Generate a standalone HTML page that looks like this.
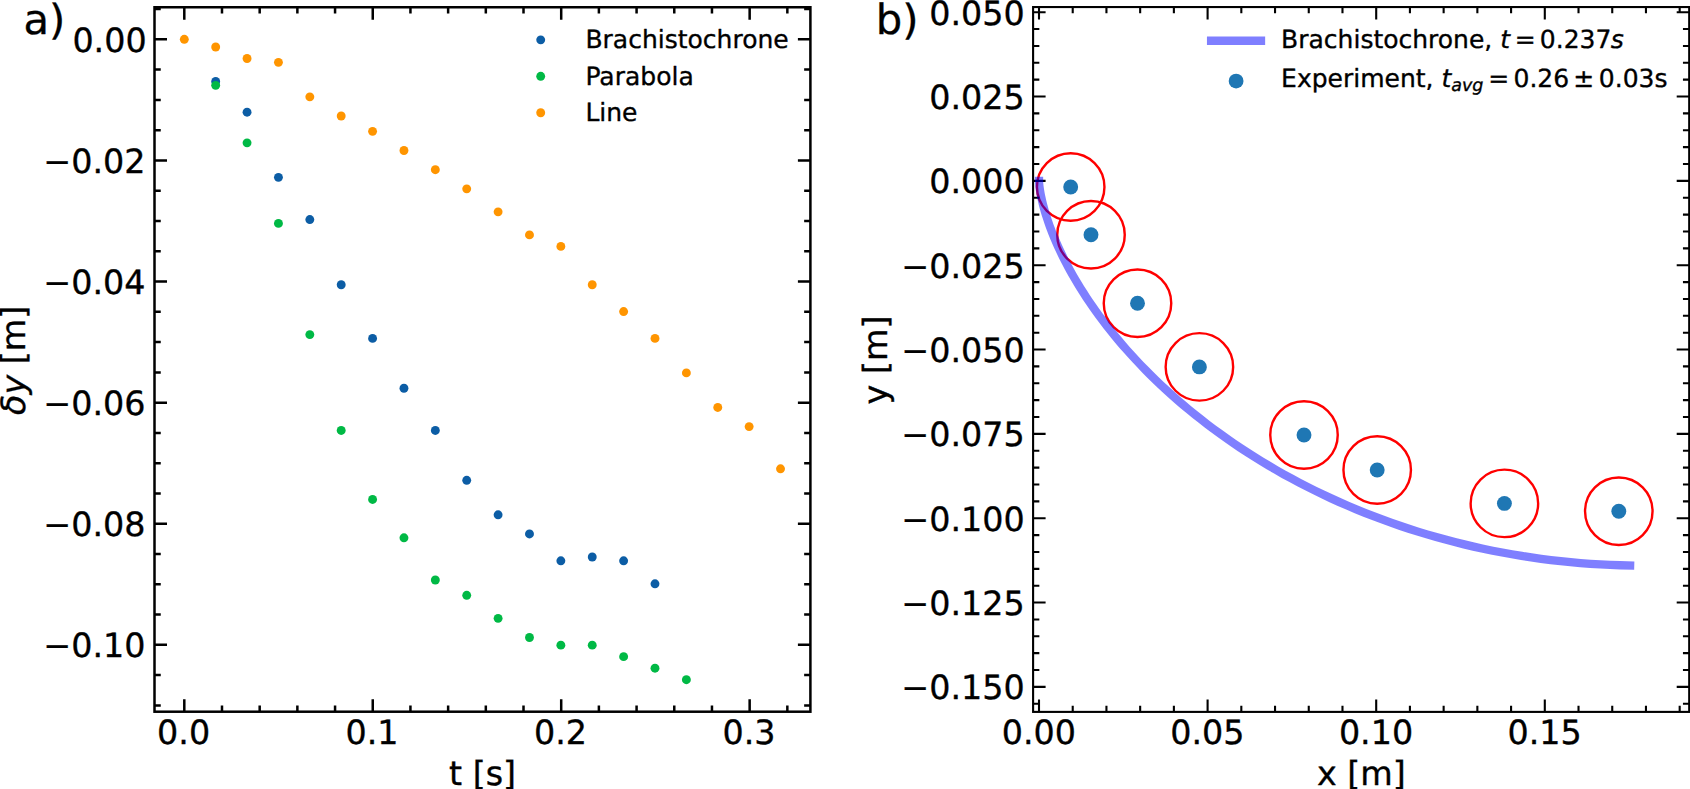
<!DOCTYPE html>
<html lang="en"><head><meta charset="utf-8"><title>Brachistochrone experiment</title>
<style>html,body{margin:0;padding:0;background:#fff}body{width:1690px;height:789px;overflow:hidden}svg{display:block}</style>
</head><body>
<svg width="1690" height="789" viewBox="0 0 1690 789" font-family='"DejaVu Sans", "Liberation Sans", sans-serif' fill="#000">
<style>text{stroke:#000;stroke-width:0.35px;stroke-linejoin:round;text-rendering:geometricPrecision}</style>
<rect width="1690" height="789" fill="#fff"/>
<path d="M184.3 711.7v-12.5M184.3 7.25v12.5M372.75 711.7v-12.5M372.75 7.25v12.5M561.2 711.7v-12.5M561.2 7.25v12.5M749.65 711.7v-12.5M749.65 7.25v12.5M221.99 711.7v-6.25M221.99 7.25v6.25M259.68 711.7v-6.25M259.68 7.25v6.25M297.37 711.7v-6.25M297.37 7.25v6.25M335.06 711.7v-6.25M335.06 7.25v6.25M410.44 711.7v-6.25M410.44 7.25v6.25M448.13 711.7v-6.25M448.13 7.25v6.25M485.82 711.7v-6.25M485.82 7.25v6.25M523.51 711.7v-6.25M523.51 7.25v6.25M598.89 711.7v-6.25M598.89 7.25v6.25M636.58 711.7v-6.25M636.58 7.25v6.25M674.27 711.7v-6.25M674.27 7.25v6.25M711.96 711.7v-6.25M711.96 7.25v6.25M787.34 711.7v-6.25M787.34 7.25v6.25M154.5 39.35h12.5M810.4 39.35h-12.5M154.5 160.45h12.5M810.4 160.45h-12.5M154.5 281.55h12.5M810.4 281.55h-12.5M154.5 402.65h12.5M810.4 402.65h-12.5M154.5 523.75h12.5M810.4 523.75h-12.5M154.5 644.85h12.5M810.4 644.85h-12.5M154.5 705.4h6.25M810.4 705.4h-6.25M154.5 675.12h6.25M810.4 675.12h-6.25M154.5 614.58h6.25M810.4 614.58h-6.25M154.5 584.3h6.25M810.4 584.3h-6.25M154.5 554.03h6.25M810.4 554.03h-6.25M154.5 493.48h6.25M810.4 493.48h-6.25M154.5 463.2h6.25M810.4 463.2h-6.25M154.5 432.93h6.25M810.4 432.93h-6.25M154.5 372.38h6.25M810.4 372.38h-6.25M154.5 342.1h6.25M810.4 342.1h-6.25M154.5 311.82h6.25M810.4 311.82h-6.25M154.5 251.28h6.25M810.4 251.28h-6.25M154.5 221h6.25M810.4 221h-6.25M154.5 190.72h6.25M810.4 190.72h-6.25M154.5 130.18h6.25M810.4 130.18h-6.25M154.5 99.9h6.25M810.4 99.9h-6.25M154.5 69.62h6.25M810.4 69.62h-6.25M154.5 9.07h6.25M810.4 9.07h-6.25" fill="none" stroke="#000" stroke-width="2.5"/>
<g fill="#0C5DA5"><circle cx="215.68" cy="81.5" r="4.45"/><circle cx="247.06" cy="112.18" r="4.45"/><circle cx="278.44" cy="177.36" r="4.45"/><circle cx="309.82" cy="219.54" r="4.45"/><circle cx="341.2" cy="284.73" r="4.45"/><circle cx="372.58" cy="338.41" r="4.45"/><circle cx="403.96" cy="388.26" r="4.45"/><circle cx="435.34" cy="430.44" r="4.45"/><circle cx="466.72" cy="480.29" r="4.45"/><circle cx="498.1" cy="514.8" r="4.45"/><circle cx="529.48" cy="533.97" r="4.45"/><circle cx="560.86" cy="560.81" r="4.45"/><circle cx="592.24" cy="556.98" r="4.45"/><circle cx="623.62" cy="560.81" r="4.45"/><circle cx="655" cy="583.82" r="4.45"/></g>
<g fill="#00B945"><circle cx="215.68" cy="85.33" r="4.45"/><circle cx="247.06" cy="142.85" r="4.45"/><circle cx="278.44" cy="223.38" r="4.45"/><circle cx="309.82" cy="334.58" r="4.45"/><circle cx="341.2" cy="430.44" r="4.45"/><circle cx="372.58" cy="499.46" r="4.45"/><circle cx="403.96" cy="537.8" r="4.45"/><circle cx="435.34" cy="579.98" r="4.45"/><circle cx="466.72" cy="595.32" r="4.45"/><circle cx="498.1" cy="618.33" r="4.45"/><circle cx="529.48" cy="637.5" r="4.45"/><circle cx="560.86" cy="645.17" r="4.45"/><circle cx="592.24" cy="645.17" r="4.45"/><circle cx="623.62" cy="656.67" r="4.45"/><circle cx="655" cy="668.18" r="4.45"/><circle cx="686.38" cy="679.68" r="4.45"/></g>
<g fill="#FF9500"><circle cx="184.3" cy="39.32" r="4.45"/><circle cx="215.68" cy="46.99" r="4.45"/><circle cx="247.06" cy="58.49" r="4.45"/><circle cx="278.44" cy="62.33" r="4.45"/><circle cx="309.82" cy="96.84" r="4.45"/><circle cx="341.2" cy="116.01" r="4.45"/><circle cx="372.58" cy="131.35" r="4.45"/><circle cx="403.96" cy="150.52" r="4.45"/><circle cx="435.34" cy="169.69" r="4.45"/><circle cx="466.72" cy="188.87" r="4.45"/><circle cx="498.1" cy="211.87" r="4.45"/><circle cx="529.48" cy="234.88" r="4.45"/><circle cx="560.86" cy="246.38" r="4.45"/><circle cx="592.24" cy="284.73" r="4.45"/><circle cx="623.62" cy="311.57" r="4.45"/><circle cx="655" cy="338.41" r="4.45"/><circle cx="686.38" cy="372.92" r="4.45"/><circle cx="717.76" cy="407.43" r="4.45"/><circle cx="749.14" cy="426.6" r="4.45"/><circle cx="780.52" cy="468.78" r="4.45"/></g>
<rect x="154.5" y="7.25" width="655.9" height="704.45" fill="none" stroke="#000" stroke-width="2.5" stroke-linejoin="miter"/>
<text transform="translate(146.6 52) scale(1 1.0)" font-size="33.33px" text-anchor="end">0.00</text>
<text transform="translate(145.5 173.1) scale(1 1.0)" font-size="33.33px" text-anchor="end">−0.02</text>
<text transform="translate(145.5 294.2) scale(1 1.0)" font-size="33.33px" text-anchor="end">−0.04</text>
<text transform="translate(145.5 415.3) scale(1 1.0)" font-size="33.33px" text-anchor="end">−0.06</text>
<text transform="translate(145.5 536.1) scale(1 1.0)" font-size="33.33px" text-anchor="end">−0.08</text>
<text transform="translate(145.5 657.2) scale(1 1.0)" font-size="33.33px" text-anchor="end">−0.10</text>
<text transform="translate(183.6 743.7) scale(1 1.0)" font-size="33.33px" text-anchor="middle">0.0</text>
<text transform="translate(372.05 743.7) scale(1 1.0)" font-size="33.33px" text-anchor="middle">0.1</text>
<text transform="translate(560.5 743.7) scale(1 1.0)" font-size="33.33px" text-anchor="middle">0.2</text>
<text transform="translate(748.95 743.7) scale(1 1.0)" font-size="33.33px" text-anchor="middle">0.3</text>
<text transform="translate(482.5 784.7) scale(1 1.0)" font-size="33.33px" text-anchor="middle">t [s]</text>
<text transform="translate(25.3 360.3) rotate(-90) scale(1 1.0)" font-size="33.33px" text-anchor="middle"><tspan font-style="italic">δy</tspan> [m]</text>
<text transform="translate(23.4 34.2) scale(1 1.0)" font-size="41.67px">a)</text>
<circle cx="540.7" cy="39.85" r="4.45" fill="#0C5DA5"/>
<text transform="translate(585.4 48.4) scale(1 1.0)" font-size="25.0px">Brachistochrone</text>
<circle cx="540.7" cy="76.3" r="4.45" fill="#00B945"/>
<text transform="translate(585.4 84.7) scale(1 1.0)" font-size="25.0px">Parabola</text>
<circle cx="540.7" cy="112.75" r="4.45" fill="#FF9500"/>
<text transform="translate(585.4 121) scale(1 1.0)" font-size="25.0px">Line</text>
<g fill="none" stroke="#ff0000" stroke-width="2.4"><circle cx="1070.7" cy="187.05" r="33.75"/><circle cx="1091.0" cy="234.7" r="33.75"/><circle cx="1137.5" cy="303.2" r="33.75"/><circle cx="1199.4" cy="366.9" r="33.75"/><circle cx="1304.0" cy="435.0" r="33.75"/><circle cx="1377.2" cy="470.0" r="33.75"/><circle cx="1504.4" cy="503.4" r="33.75"/><circle cx="1618.8" cy="511.3" r="33.75"/></g>
<g fill="#1f77b4"><circle cx="1070.7" cy="187.05" r="7.45"/><circle cx="1091.0" cy="234.7" r="7.45"/><circle cx="1137.5" cy="303.2" r="7.45"/><circle cx="1199.4" cy="366.9" r="7.45"/><circle cx="1304.0" cy="435.0" r="7.45"/><circle cx="1377.2" cy="470.0" r="7.45"/><circle cx="1504.4" cy="503.4" r="7.45"/><circle cx="1618.8" cy="511.3" r="7.45"/></g>
<path d="M1039 711.9v-12.5M1039 7.05v12.5M1207.6 711.9v-12.5M1207.6 7.05v12.5M1376.2 711.9v-12.5M1376.2 7.05v12.5M1544.8 711.9v-12.5M1544.8 7.05v12.5M1072.72 711.9v-6.25M1072.72 7.05v6.25M1106.44 711.9v-6.25M1106.44 7.05v6.25M1140.16 711.9v-6.25M1140.16 7.05v6.25M1173.88 711.9v-6.25M1173.88 7.05v6.25M1241.32 711.9v-6.25M1241.32 7.05v6.25M1275.04 711.9v-6.25M1275.04 7.05v6.25M1308.76 711.9v-6.25M1308.76 7.05v6.25M1342.48 711.9v-6.25M1342.48 7.05v6.25M1409.92 711.9v-6.25M1409.92 7.05v6.25M1443.64 711.9v-6.25M1443.64 7.05v6.25M1477.36 711.9v-6.25M1477.36 7.05v6.25M1511.08 711.9v-6.25M1511.08 7.05v6.25M1578.52 711.9v-6.25M1578.52 7.05v6.25M1612.24 711.9v-6.25M1612.24 7.05v6.25M1645.96 711.9v-6.25M1645.96 7.05v6.25M1679.68 711.9v-6.25M1679.68 7.05v6.25M1033.1 686.9h12.5M1689.2 686.9h-12.5M1033.1 602.56h12.5M1689.2 602.56h-12.5M1033.1 518.23h12.5M1689.2 518.23h-12.5M1033.1 433.89h12.5M1689.2 433.89h-12.5M1033.1 349.55h12.5M1689.2 349.55h-12.5M1033.1 265.21h12.5M1689.2 265.21h-12.5M1033.1 180.88h12.5M1689.2 180.88h-12.5M1033.1 96.54h12.5M1689.2 96.54h-12.5M1033.1 12.2h12.5M1689.2 12.2h-12.5M1033.1 703.77h6.25M1689.2 703.77h-6.25M1033.1 670.03h6.25M1689.2 670.03h-6.25M1033.1 653.16h6.25M1689.2 653.16h-6.25M1033.1 636.3h6.25M1689.2 636.3h-6.25M1033.1 619.43h6.25M1689.2 619.43h-6.25M1033.1 585.69h6.25M1689.2 585.69h-6.25M1033.1 568.83h6.25M1689.2 568.83h-6.25M1033.1 551.96h6.25M1689.2 551.96h-6.25M1033.1 535.09h6.25M1689.2 535.09h-6.25M1033.1 501.36h6.25M1689.2 501.36h-6.25M1033.1 484.49h6.25M1689.2 484.49h-6.25M1033.1 467.62h6.25M1689.2 467.62h-6.25M1033.1 450.75h6.25M1689.2 450.75h-6.25M1033.1 417.02h6.25M1689.2 417.02h-6.25M1033.1 400.15h6.25M1689.2 400.15h-6.25M1033.1 383.28h6.25M1689.2 383.28h-6.25M1033.1 366.42h6.25M1689.2 366.42h-6.25M1033.1 332.68h6.25M1689.2 332.68h-6.25M1033.1 315.81h6.25M1689.2 315.81h-6.25M1033.1 298.95h6.25M1689.2 298.95h-6.25M1033.1 282.08h6.25M1689.2 282.08h-6.25M1033.1 248.34h6.25M1689.2 248.34h-6.25M1033.1 231.48h6.25M1689.2 231.48h-6.25M1033.1 214.61h6.25M1689.2 214.61h-6.25M1033.1 197.74h6.25M1689.2 197.74h-6.25M1033.1 164.01h6.25M1689.2 164.01h-6.25M1033.1 147.14h6.25M1689.2 147.14h-6.25M1033.1 130.27h6.25M1689.2 130.27h-6.25M1033.1 113.41h6.25M1689.2 113.41h-6.25M1033.1 79.67h6.25M1689.2 79.67h-6.25M1033.1 62.8h6.25M1689.2 62.8h-6.25M1033.1 45.94h6.25M1689.2 45.94h-6.25M1033.1 29.07h6.25M1689.2 29.07h-6.25" fill="none" stroke="#000" stroke-width="2.1"/>
<path d="M1039 180.88 L1039 180.94 L1039 181.13 L1039.02 181.46 L1039.04 181.91 L1039.07 182.49 L1039.12 183.19 L1039.19 184.03 L1039.28 184.99 L1039.4 186.08 L1039.55 187.29 L1039.74 188.63 L1039.96 190.09 L1040.22 191.68 L1040.52 193.38 L1040.86 195.21 L1041.26 197.16 L1041.71 199.22 L1042.21 201.4 L1042.77 203.7 L1043.39 206.11 L1044.08 208.63 L1044.83 211.27 L1045.65 214.01 L1046.55 216.86 L1047.52 219.81 L1048.57 222.87 L1049.69 226.02 L1050.9 229.28 L1052.2 232.63 L1053.59 236.08 L1055.06 239.62 L1056.63 243.24 L1058.29 246.96 L1060.05 250.76 L1061.91 254.64 L1063.87 258.6 L1065.93 262.64 L1068.1 266.76 L1070.38 270.94 L1072.77 275.19 L1075.27 279.51 L1077.88 283.89 L1080.6 288.34 L1083.44 292.83 L1086.4 297.39 L1089.47 301.99 L1092.67 306.64 L1095.99 311.34 L1099.42 316.07 L1102.99 320.85 L1106.67 325.66 L1110.48 330.5 L1114.42 335.38 L1118.48 340.27 L1122.67 345.19 L1126.99 350.13 L1131.44 355.08 L1136.01 360.05 L1140.71 365.02 L1145.55 370 L1150.51 374.98 L1155.6 379.96 L1160.81 384.94 L1166.16 389.91 L1171.64 394.87 L1177.24 399.81 L1182.97 404.73 L1188.83 409.64 L1194.82 414.52 L1200.93 419.37 L1207.17 424.19 L1213.53 428.97 L1220.01 433.72 L1226.62 438.43 L1233.35 443.1 L1240.19 447.71 L1247.16 452.28 L1254.25 456.8 L1261.45 461.26 L1268.76 465.66 L1276.19 469.99 L1283.73 474.27 L1291.38 478.47 L1299.14 482.61 L1307 486.67 L1314.97 490.65 L1323.04 494.56 L1331.21 498.38 L1339.48 502.12 L1347.85 505.78 L1356.3 509.34 L1364.85 512.82 L1373.49 516.2 L1382.21 519.48 L1391.02 522.67 L1399.91 525.76 L1408.88 528.74 L1417.92 531.62 L1427.04 534.4 L1436.22 537.06 L1445.48 539.62 L1454.8 542.06 L1464.18 544.39 L1473.62 546.61 L1483.11 548.71 L1492.66 550.69 L1502.26 552.55 L1511.91 554.29 L1521.59 555.92 L1531.32 557.41 L1541.09 558.79 L1550.89 560.04 L1560.72 561.16 L1570.58 562.16 L1580.46 563.04 L1590.36 563.78 L1600.29 564.4 L1610.22 564.89 L1620.17 565.25 L1630.12 565.48" fill="none" stroke="#0000ff" stroke-opacity="0.5" stroke-width="8.3" stroke-linecap="square" stroke-linejoin="round"/>
<rect x="1033.1" y="7.05" width="656.1" height="704.85" fill="none" stroke="#000" stroke-width="2.1" stroke-linejoin="miter"/>
<text transform="translate(1024.6 699.25) scale(1 1.0)" font-size="33.33px" text-anchor="end">−0.150</text>
<text transform="translate(1024.6 614.91) scale(1 1.0)" font-size="33.33px" text-anchor="end">−0.125</text>
<text transform="translate(1024.6 530.58) scale(1 1.0)" font-size="33.33px" text-anchor="end">−0.100</text>
<text transform="translate(1024.6 446.24) scale(1 1.0)" font-size="33.33px" text-anchor="end">−0.075</text>
<text transform="translate(1024.6 361.9) scale(1 1.0)" font-size="33.33px" text-anchor="end">−0.050</text>
<text transform="translate(1024.6 277.56) scale(1 1.0)" font-size="33.33px" text-anchor="end">−0.025</text>
<text transform="translate(1024.6 193.22) scale(1 1.0)" font-size="33.33px" text-anchor="end">0.000</text>
<text transform="translate(1024.6 108.89) scale(1 1.0)" font-size="33.33px" text-anchor="end">0.025</text>
<text transform="translate(1024.6 24.55) scale(1 1.0)" font-size="33.33px" text-anchor="end">0.050</text>
<text transform="translate(1038.8 743.6) scale(1 1.0)" font-size="33.33px" text-anchor="middle">0.00</text>
<text transform="translate(1207.4 743.6) scale(1 1.0)" font-size="33.33px" text-anchor="middle">0.05</text>
<text transform="translate(1376 743.6) scale(1 1.0)" font-size="33.33px" text-anchor="middle">0.10</text>
<text transform="translate(1544.6 743.6) scale(1 1.0)" font-size="33.33px" text-anchor="middle">0.15</text>
<text transform="translate(1361.3 784.7) scale(1 1.0)" font-size="33.33px" text-anchor="middle">x [m]</text>
<text transform="translate(886.8 360) rotate(-90) scale(1 1.0)" font-size="33.33px" text-anchor="middle">y [m]</text>
<text transform="translate(875.75 34.2) scale(1 1.0)" font-size="41.67px">b)</text>
<path d="M1211.2 40.7H1260.9" stroke="#0000ff" stroke-opacity="0.5" stroke-width="8.5" stroke-linecap="square"/>
<circle cx="1236.1" cy="81.1" r="7.4" fill="#1f77b4"/>
<text transform="translate(1281.1 47.7) scale(1 1.0)" font-size="25.0px">Brachistochrone, <tspan font-style="italic">t</tspan><tspan dx="4.65">=</tspan><tspan dx="4.15">0.237</tspan><tspan font-style="italic" dx="-0.6">s</tspan></text>
<text transform="translate(1281.1 86.7) scale(1 1.0)" font-size="25.0px">Experiment, <tspan font-style="italic">t</tspan><tspan font-style="italic" font-size="17.5px" dy="4">avg</tspan><tspan dy="-4" dx="4.85">=</tspan><tspan dx="4.25">0.26</tspan><tspan dx="3.95">±</tspan><tspan dx="4.75">0.03s</tspan></text>
</svg>
</body></html>
